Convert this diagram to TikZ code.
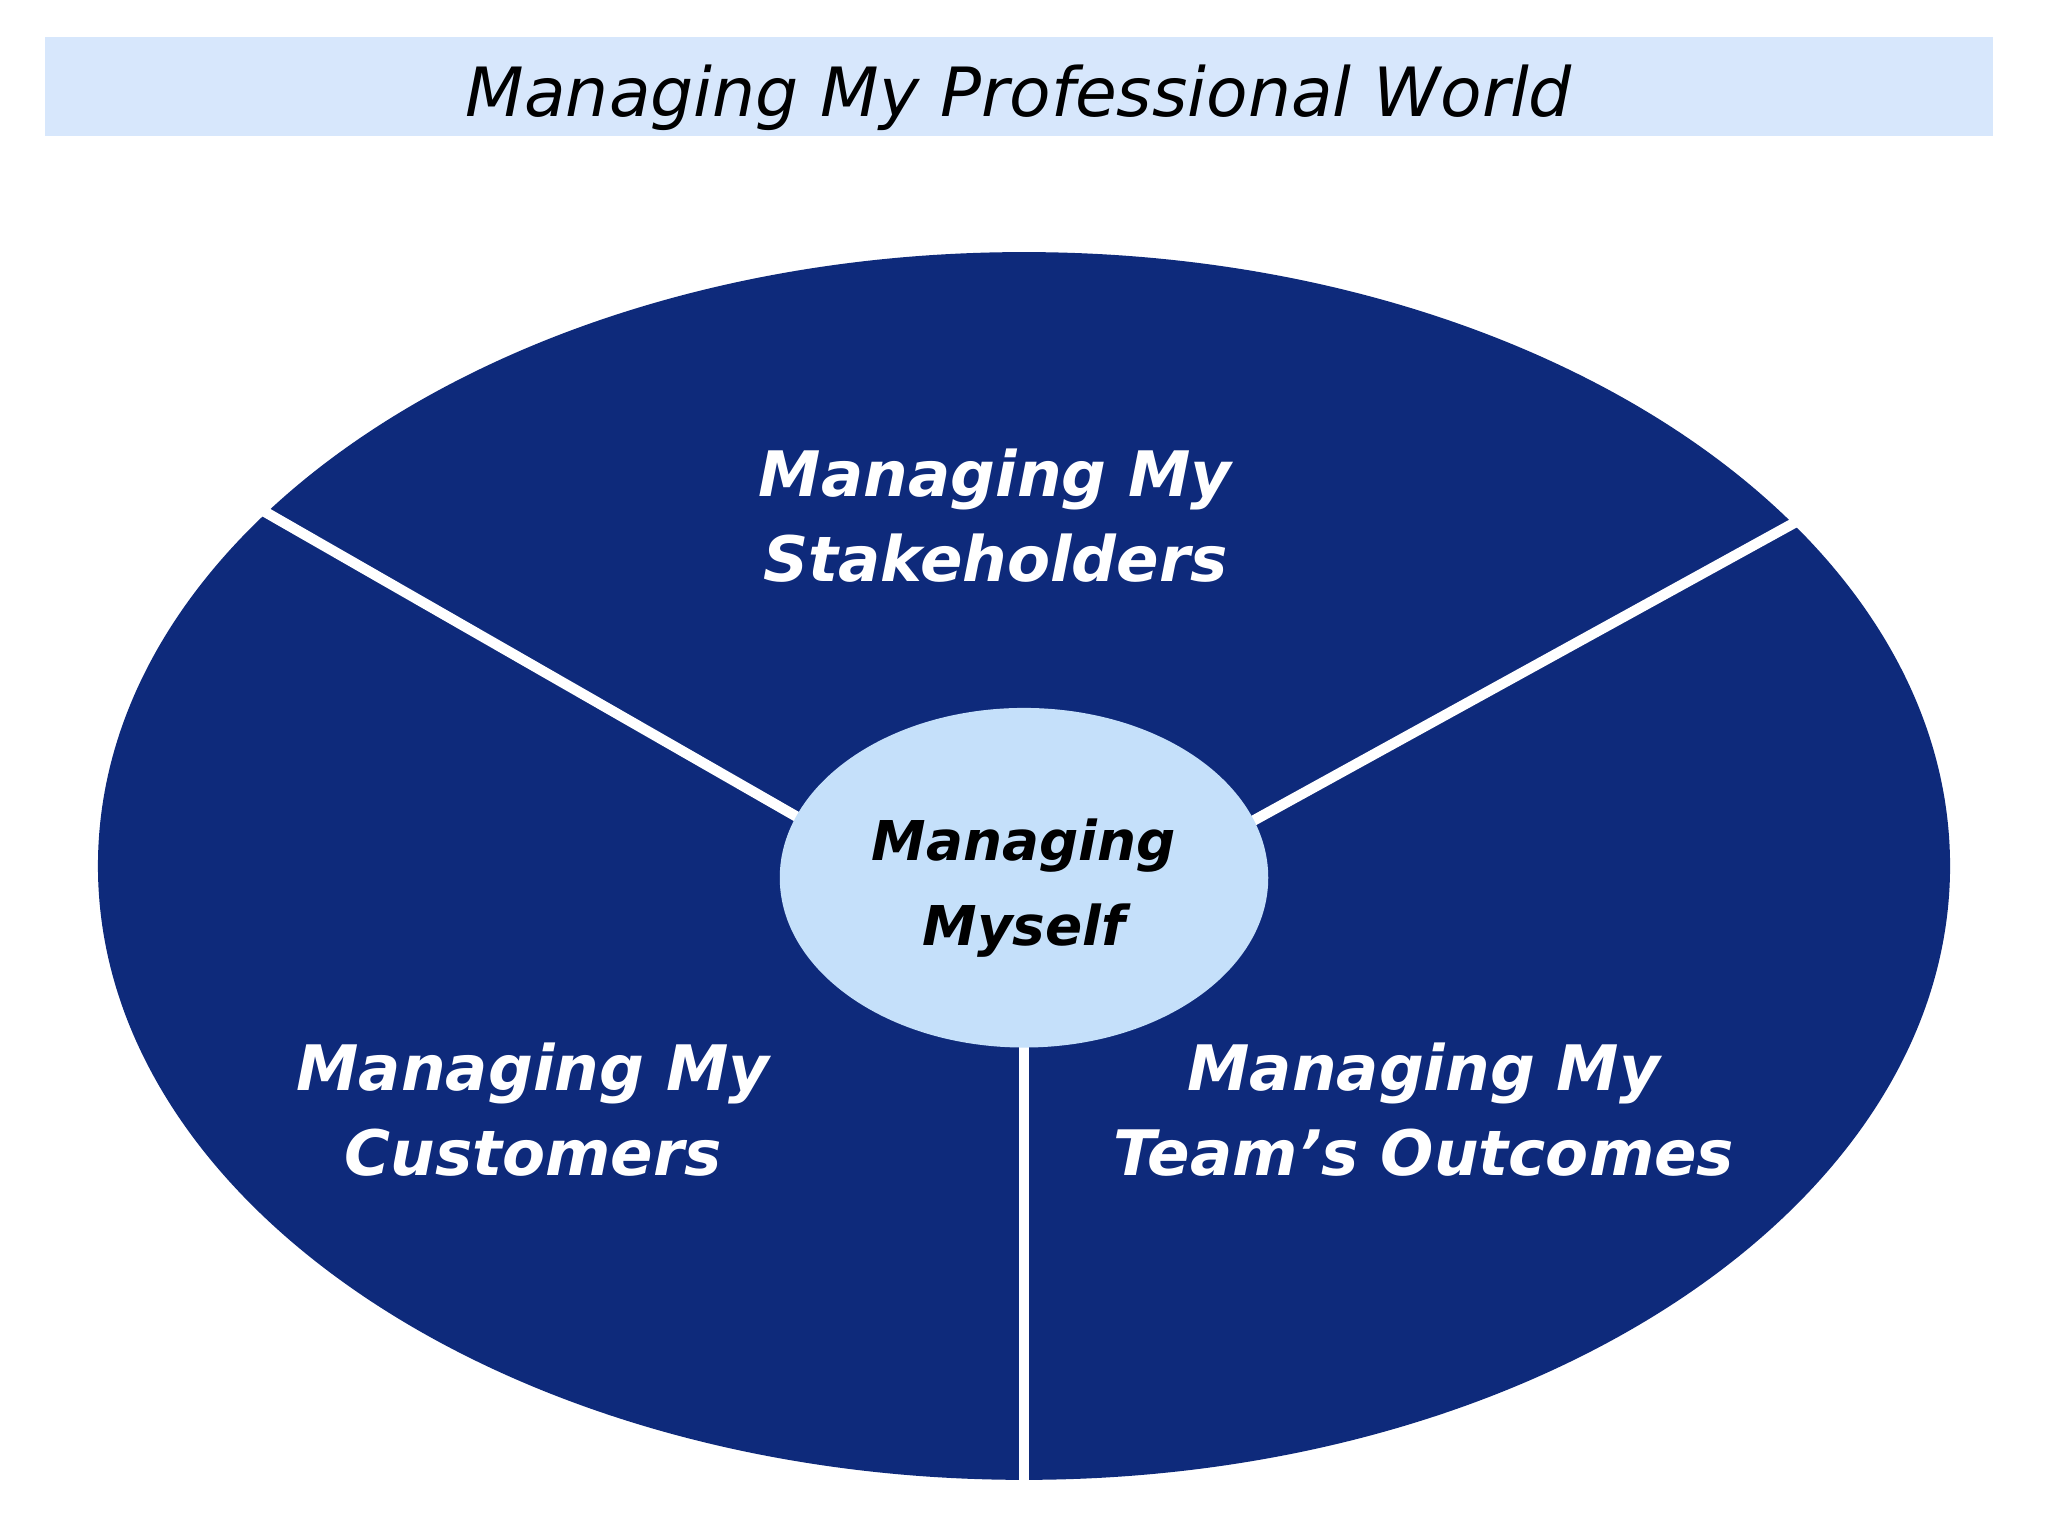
\documentclass[tikz,border=0pt]{standalone}
\usepackage{fontspec}
\setmainfont{DejaVu Sans}
\usetikzlibrary{shapes.geometric,calc}
\definecolor{navy}{RGB}{14,42,123}
\definecolor{titlebg}{RGB}{215,231,252}
\definecolor{selfbg}{RGB}{197,224,250}
\begin{document}
\begin{tikzpicture}[x=1bp,y=-1bp,
  lbl/.style={font=\fontsize{48bp}{65bp}\selectfont\bfseries\itshape, text=white, align=center, inner sep=0, anchor=north},
  selflbl/.style={font=\fontsize{42bp}{65bp}\selectfont\bfseries\itshape, text=black, align=center, inner sep=0, anchor=north},
  divider/.style={draw=white, line width=8bp}]
\useasboundingbox[fill=white] (0,0) rectangle (1568,1176);
\node[fill=titlebg, minimum width=1492bp, minimum height=76bp, inner sep=0, anchor=north west] (bar) at (34,28) {};
\node[font=\fontsize{52bp}{60bp}\selectfont\itshape, anchor=base, inner sep=0] (title) at (780,89) {Managing My Professional World};
\node[ellipse, fill=navy, minimum width=1418bp, minimum height=940bp, inner sep=0] (world) at (784,663) {};
\coordinate (hub) at (784,725);
\draw[divider] (hub) -- ($(hub)!1.05!(world.155.6)$);
\draw[divider] (hub) -- ($(hub)!1.05!(world.24.4)$);
\draw[divider] (hub) -- ($(hub)!1.05!(world.south)$);
\node[ellipse, fill=selfbg, minimum width=374bp, minimum height=260bp, inner sep=0] (self) at (784,672) {};
\node[selflbl] (selftext) at (784,627) {Managing\\Myself};
\node[lbl] (stake) at (762,343.5) {Managing My\\Stakeholders};
\node[lbl] (cust) at (408,798) {Managing My\\Customers};
\node[lbl] (team) at (1090,798) {Managing My\\Team’s Outcomes};
\end{tikzpicture}
\end{document}
